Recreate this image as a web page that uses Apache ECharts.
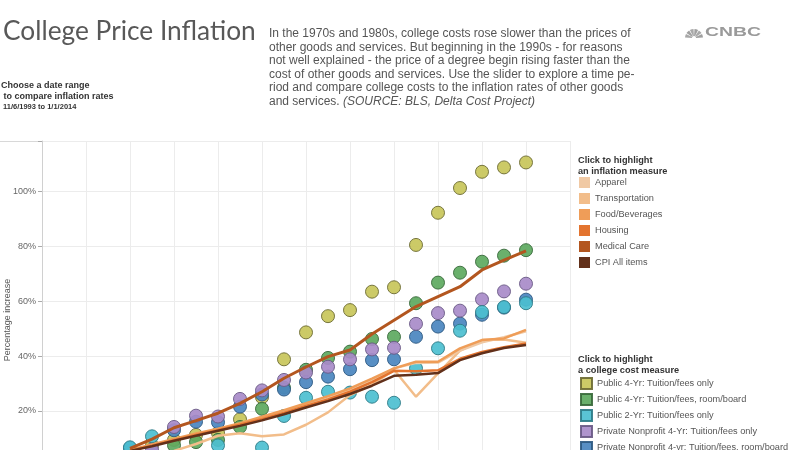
<!DOCTYPE html>
<html><head><meta charset="utf-8">
<script src="https://cdn.jsdelivr.net/npm/echarts@6/dist/echarts.min.js"></script>
<style>html,body{margin:0;padding:0;background:#fff;overflow:hidden;width:800px;height:450px}#c{width:800px;height:500px}</style>
</head><body><div id="c"></div>
<script>
// ---- data ----
const years = [1994,1995,1996,1997,1998,1999,2000,2001,2002,2003,2004,2005,2006,2007,2008,2009,2010,2011,2012];
const yTicks = [0,20,40,60,80,100];

// inflation measures (lines)
const apparel        = [5.5,7.5,9.5,11.3,13.2,15.2,17.4,19.6,22.2,24.8,27.6,31.0,35.5,37.5,37.6,42.0,45.0,46.8,49.0];
const transportation = [3.0,4.0,5.5,8.0,11.0,11.9,10.8,11.5,15.0,19.5,25.8,29.5,35.0,25.2,33.7,42.0,45.8,46.0,44.8];
const foodBeverages  = [5.8,7.8,9.8,11.8,13.6,15.6,17.9,20.3,22.8,25.4,28.2,31.8,35.5,37.9,37.9,42.8,45.8,46.4,49.5];
const housing        = [5.6,7.4,9.4,11.3,13.0,15.0,17.0,19.3,21.8,24.2,27.0,30.5,34.6,34.5,34.8,39.0,41.5,43.2,44.6];
const medicalCare    = [6.4,9.8,13.9,16.5,19.2,22.8,27.0,31.9,36.0,39.8,42.2,48.0,53.0,58.0,61.6,65.2,71.3,74.9,78.2];
const cpiAll         = [5.5,7.2,9.2,11.0,12.8,14.6,16.6,18.8,21.3,23.6,26.2,29.2,32.8,33.2,33.8,38.5,41.0,42.9,44.0];

// college cost measures (points)
const pub4Tuition   = [2.0,7.5,9.5,11.3,12.0,17.0,25.0,38.8,48.6,54.5,56.7,63.4,65.0,80.4,92.1,101.1,107.0,108.6,110.4];
const pub4Room      = [2.0,4.0,7.5,8.7,9.5,14.2,20.8,28.5,35.0,39.3,41.6,46.2,47.0,59.2,66.7,70.3,74.3,76.5,78.5];
const pub2Tuition   = [6.8,10.8,3.0,2.0,7.5,3.0,6.7,18.2,24.8,27.0,26.7,25.2,23.0,35.5,42.8,49.2,56.0,57.8,59.2];
const privTuition   = [3.0,6.0,14.2,18.3,18.0,24.4,27.5,31.3,34.0,36.1,38.8,42.4,43.0,51.7,55.6,56.5,60.6,63.5,66.3];
const privRoom      = [6.5,5.0,13.0,16.1,15.9,21.6,26.0,27.8,30.5,32.5,35.2,38.5,38.8,47.0,50.7,51.8,55.0,57.6,60.5];

const lineNames  = ['Apparel','Transportation','Food/Beverages','Housing','Medical Care','CPI All items'];
const lineColors = ['#f0c9a4','#f2bd8a','#ef9d58','#e3742f','#b3561f','#62301a'];
const lineData   = [apparel, transportation, foodBeverages, housing, medicalCare, cpiAll];

const ptNames  = ['Public 4-Yr: Tuition/fees only','Public 4-Yr: Tuition/fees, room/board','Public 2-Yr: Tuition/fees only','Private Nonprofit 4-Yr: Tuition/fees only','Private Nonprofit 4-yr: Tuition/fees, room/board'];
const ptColors = ['#c8c65a','#5da95f','#4cbfd0','#a88bc9','#4a86bf'];
const ptBorders= ['#6e6c35','#3a6a3c','#2f7c88','#6a5a86','#2f5a82'];
const ptData   = [pub4Tuition, pub4Room, pub2Tuition, privTuition, privRoom];
const ptOrder  = [0,1,4,3,2];

const pairs = arr => years.map((y,i)=>[y,arr[i]]);

const series = [];
ptOrder.forEach(k=>{
  series.push({
    name: ptNames[k], type:'scatter', symbolSize:13, z:2, clip:false,
    itemStyle:{color:ptColors[k], borderColor:ptBorders[k], borderWidth:1, opacity:0.92},
    data: pairs(ptData[k])
  });
});
[1,0,2,3,5,4].forEach(k=>{
  series.push({
    name: lineNames[k], type:'line', symbol:'none', z:3,
    lineStyle:{color:lineColors[k], width: k===4?3:2.5},
    itemStyle:{color:lineColors[k]},
    data: pairs(lineData[k])
  });
});

const chart = echarts.init(document.getElementById('c'), null, {renderer:'canvas'});
const baseFont = 'Liberation Sans, Arial, sans-serif';

const graphic = [
  {type:'text', left:3, top:19, style:{text:'College Price Inflation', font:'26.3px Lato, sans-serif', fill:'#585858'}},
  {type:'text', left:1, top:80, style:{text:'Choose a date range\n to compare inflation rates', font:'bold 9px '+baseFont, fill:'#333', lineHeight:11}},
  {type:'text', left:3, top:103, style:{text:'11/6/1993 to 1/1/2014', font:'bold 7.5px '+baseFont, fill:'#333'}},
  {type:'text', left:269, top:28, style:{
    rich:{n:{font:'12px '+baseFont, fill:'#555', lineHeight:13.5}, i:{font:'italic 12px '+baseFont, fill:'#555', lineHeight:13.5}},
    text:'{n|In the 1970s and 1980s, college costs rose slower than the prices of}\n{n|other goods and services. But beginning in the 1990s - for reasons}\n{n|not well explained - the price of a degree begin rising faster than the}\n{n|cost of other goods and services. Use the slider to explore a time pe-}\n{n|riod and compare college costs to the inflation rates of other goods}\n{n|and services. }{i|(SOURCE: BLS, Delta Cost Project)}'
  }},
  {type:'text', x:705, y:33, scaleX:1.55, style:{text:'CNBC', font:'bold 12.5px '+baseFont, fill:'#9a9a9a', verticalAlign:'middle'}},
  {type:'text', x:8, y:320, rotation:Math.PI/2, style:{text:'Percentage increase', font:'9px '+baseFont, fill:'#555', align:'center', verticalAlign:'middle'}},
  {type:'line', shape:{x1:0,y1:141.5,x2:570,y2:141.5}, style:{stroke:'#d8d8d8', lineWidth:1}},
  {type:'line', shape:{x1:570.5,y1:141,x2:570.5,y2:500}, style:{stroke:'#d8d8d8', lineWidth:1}},
  {type:'text', left:578, top:154.5, style:{text:'Click to highlight\nan inflation measure', font:'bold 9.2px '+baseFont, fill:'#333', lineHeight:11}},
  {type:'text', left:578, top:354, style:{text:'Click to highlight\na college cost measure', font:'bold 9.2px '+baseFont, fill:'#333', lineHeight:11}}
];
// peacock petals
const petalCols = ['#a8a8a8','#a0a0a0','#a8a8a8','#a0a0a0','#a8a8a8','#a0a0a0'];
for (let p=0;p<6;p++){
  const a0 = Math.PI + p*Math.PI/6 + 0.05, a1 = a0 + Math.PI/6 - 0.1;
  graphic.push({type:'sector', shape:{cx:694, cy:38, r0:2, r:9, startAngle:a0, endAngle:a1}, style:{fill:petalCols[p]}});
}

chart.setOption({
  animation:false,
  textStyle:{fontFamily:baseFont},
  grid:{left:42, right:230, top:141, bottom:34, containLabel:false},
  xAxis:{type:'value', min:1990, max:2014, interval:2,
    axisLine:{show:false}, axisTick:{show:false}, axisLabel:{show:false},
    splitLine:{show:true, lineStyle:{color:'#ececec', width:1}}},
  yAxis:{type:'value', min:0, max:118.2, interval:20,
    axisLine:{show:true, lineStyle:{color:'#d0d0d0'}},
    axisTick:{show:true, length:4, lineStyle:{color:'#aaa'}},
    axisLabel:{fontSize:9, color:'#666', margin:6,
      formatter: v => yTicks.includes(Math.round(v*1000)/1000) ? v+'%' : ''},
    splitLine:{show:true, lineStyle:{color:'#ececec', width:1}}},
  legend:[
    {orient:'vertical', left:579, top:177, padding:0, itemWidth:11, itemHeight:11, itemGap:5, icon:'rect',
     data: lineNames, textStyle:{fontSize:9.2, color:'#555', fontFamily:baseFont}},
    {orient:'vertical', left:580, top:377, padding:0, itemWidth:11, itemHeight:11, itemGap:3, icon:'rect',
     data: ptNames, textStyle:{fontSize:9.2, color:'#555', fontFamily:baseFont}}
  ],
  graphic: graphic,
  series: series
});
</script></body></html>
